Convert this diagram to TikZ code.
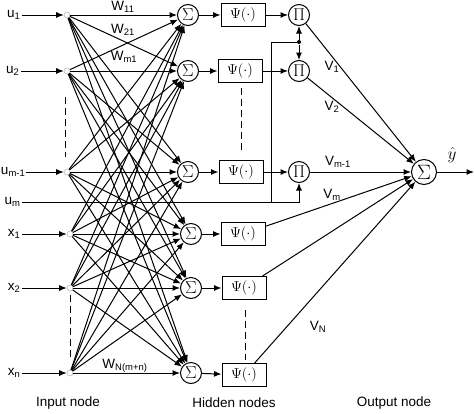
\documentclass[tikz,border=0pt]{standalone}
\usepackage{amsmath, amssymb}
\usepackage{fontspec}
\setmainfont{Liberation Sans}
\usetikzlibrary{arrows.meta, positioning}

\begin{document}
\begin{tikzpicture}[x=1pt, y=-1pt, line width=1pt, font=\fontsize{13.5}{15}\selectfont,
    >={Latex[length=7.5pt, width=6pt]},
    innode/.style={circle, draw=gray!55, fill=white, inner sep=0pt, minimum size=6pt, line width=0.6pt},
    sumnode/.style={circle, draw, inner sep=0pt, minimum size=21pt, font=\fontsize{19}{19}\selectfont},
    psibox/.style={draw, minimum width=44pt, minimum height=23pt, inner sep=0pt, font=\fontsize{14}{15}\selectfont},
    lbl/.style={inner sep=1pt},
    vdash/.style={dash pattern=on 7pt off 4pt}]
    \useasboundingbox (0,0) rectangle (474,413);

    % input nodes
    \node[innode] (u1) at (67,15) {};
    \node[innode] (u2) at (67,71) {};
    \node[innode] (um1) at (67,172) {};
    \node[innode] (x1) at (70,234) {};
    \node[innode] (x2) at (70,288) {};
    \node[innode] (xn) at (70,373) {};
    \node[lbl, anchor=east] (lu1) at (22,15) {u\textsubscript{1}};
    \node[lbl, anchor=east] (lu2) at (21,71) {u\textsubscript{2}};
    \node[lbl, anchor=west, inner sep=0.5pt] (lum1) at (0,172) {u\textsubscript{m-1}};
    \node[lbl, anchor=east] (lum) at (22,202) {u\textsubscript{m}};
    \node[lbl, anchor=east] (lx1) at (22,234) {x\textsubscript{1}};
    \node[lbl, anchor=east] (lx2) at (22,288) {x\textsubscript{2}};
    \node[lbl, anchor=east] (lxn) at (22,373) {x\textsubscript{n}};
    \draw[->] (lu1) -- (u1);
    \draw[->] (lu2) -- (u2);
    \draw[->] (lum1) -- (um1);
    \draw[->] (lx1) -- (x1);
    \draw[->] (lx2) -- (x2);
    \draw[->] (lxn) -- (xn);
    \draw[vdash] (65,97) -- (65,157);
    \draw[vdash] (70,295) -- (70,360);

    % hidden nodes
    \node[sumnode] (s1) at (188,15) {$\Sigma$};
    \node[sumnode] (s2) at (188,71) {$\Sigma$};
    \node[sumnode] (s3) at (188,172) {$\Sigma$};
    \node[sumnode] (s4) at (191,234) {$\Sigma$};
    \node[sumnode] (s5) at (191,288) {$\Sigma$};
    \node[sumnode] (s6) at (191,373) {$\Sigma$};
    \node[psibox] (p1) at (243,15) {$\Psi(\cdot)$};
    \node[psibox] (p2) at (240,71) {$\Psi(\cdot)$};
    \node[psibox] (p3) at (241,172) {$\Psi(\cdot)$};
    \node[psibox] (p4) at (243,234) {$\Psi(\cdot)$};
    \node[psibox] (p5) at (244,288) {$\Psi(\cdot)$};
    \node[psibox] (p6) at (244,375) {$\Psi(\cdot)$};
    \node[sumnode] (m1) at (299,15) {$\Pi$};
    \node[sumnode] (m2) at (299,71) {$\Pi$};
    \node[sumnode] (m3) at (299,172) {$\Pi$};
    \draw[vdash] (241,88) -- (241,150);
    \draw[vdash] (245,310) -- (245,360);

    \foreach \i in {u1,u2,um1,x1,x2,xn}
        \foreach \j in {s1,s2,s3,s4,s5,s6}
            \draw[->] (\i) -- (\j);
    \foreach \k in {1,...,6}
        \draw[->] (s\k) -- (p\k);
    \draw[->] (p1) -- (m1);
    \draw[->] (p2) -- (m2);
    \draw[->] (p3) -- (m3);

    \node[lbl] (w11) at (123,7) {W\textsubscript{11}};
    \node[lbl] (w21) at (123,30) {W\textsubscript{21}};
    \node[lbl] (wm1) at (124,57) {W\textsubscript{m1}};
    \node[lbl] (wn) at (125,366) {W\textsubscript{N(m+n)}};

    % u_m branch
    \node[circle, fill, inner sep=0pt, minimum size=4pt] (d) at (299,42) {};
    \coordinate (b) at (271,202);
    \draw[->] (lum) -| (m3);
    \draw (b) |- (d);
    \draw[->] (d) -- (m1);
    \draw[->] (d) -- (m2);

    % output node
    \node[sumnode, minimum size=25pt, font=\fontsize{22}{22}\selectfont] (o) at (424,172) {$\Sigma$};
    \coordinate (yend) at (474,172);
    \draw[->] (o) -- (yend);
    \node[lbl, font=\fontsize{17}{17}\selectfont] (yhat) at (452,155) {$\hat{y}$};
    \draw[->] (m1) -- (o);
    \draw[->] (m2) -- (o);
    \draw[->] (m3) -- (o);
    \draw[->] (p4) -- (o);
    \draw[->] (p5) -- (o);
    \draw[->] (p6) -- (o);
    \node[lbl] (v1) at (332,67) {V\textsubscript{1}};
    \node[lbl] (v2) at (332,107) {V\textsubscript{2}};
    \node[lbl] (vm1) at (338,162) {V\textsubscript{m-1}};
    \node[lbl] (vm) at (332,195) {V\textsubscript{m}};
    \node[lbl] (vn) at (318,327) {V\textsubscript{N}};

    % captions
    \node[lbl] (cin) at (68,403) {Input node};
    \node[lbl] (chid) at (234,403) {Hidden nodes};
    \node[lbl] (cout) at (394,403) {Output node};
\end{tikzpicture}
\end{document}
